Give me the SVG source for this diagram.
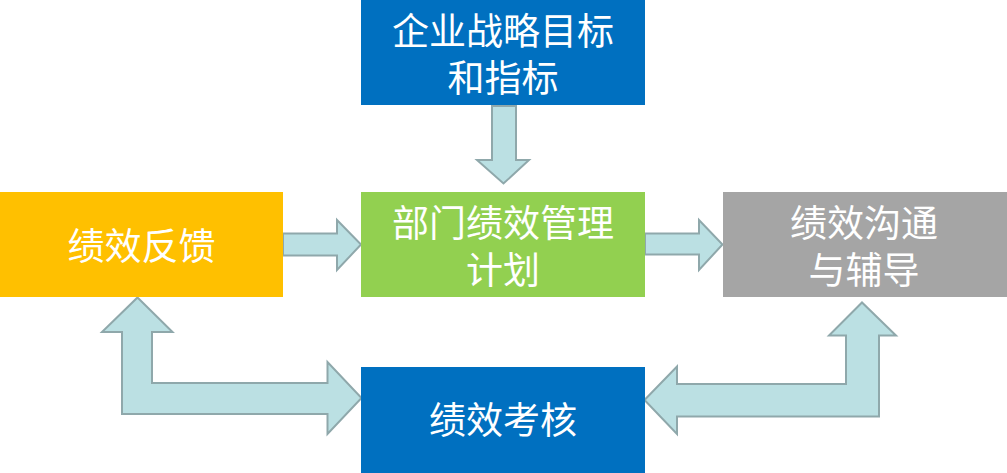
<svg xmlns="http://www.w3.org/2000/svg" width="1007" height="473" viewBox="0 0 1007 473">
<style>
.t{font-family:"Noto Sans CJK SC","Noto Sans",sans-serif;font-size:37px;fill:#FFFFFF;text-anchor:middle;dominant-baseline:central}
.a{fill:#BBE0E3;stroke:#8FA8AB;stroke-width:2;stroke-linejoin:miter}
</style>
<rect width="1007" height="473" fill="#FFFFFF"/>
<g id="connectors">
<polygon class="a" points="492,106 516,106 516,160 529,160 503.5,183.5 477,160 492,160"/>
<polygon class="a" points="283,233.5 337,233.5 337,220 361,244.5 337,270 337,255.5 283,255.5"/>
<polygon class="a" points="645,233.5 699,233.5 699,220 722.5,244.5 699,270 699,254.5 645,254.5"/>
<polygon class="a" points="137.5,297.5 172.5,332 152,332 152,383 327.5,383 327.5,362 361.5,398 327.5,434 327.5,414 122,414 122,332 102,332"/>
<polygon class="a" points="644.5,400 677,366.5 677,384 846,384 846,335.5 829,335.5 862,302.5 896,335.5 879,335.5 879,416.5 677,416.5 677,434"/>
</g>
<g id="node-strategy">
<rect x="361" y="0" width="284" height="105" fill="#0070C0"/>
<text class="t"><tspan x="503" y="29">企业战略目标</tspan><tspan x="503" y="76">和指标</tspan></text>
</g>
<g id="node-plan">
<rect x="361" y="192" width="284" height="105" fill="#92D050"/>
<text class="t"><tspan x="503" y="221">部门绩效管理</tspan><tspan x="503" y="268">计划</tspan></text>
</g>
<g id="node-feedback">
<rect x="0" y="192" width="283" height="105" fill="#FFC000"/>
<text class="t" x="141.5" y="244">绩效反馈</text>
</g>
<g id="node-communication">
<rect x="723" y="192" width="284" height="105" fill="#A5A5A5"/>
<text class="t"><tspan x="864" y="221">绩效沟通</tspan><tspan x="864" y="268">与辅导</tspan></text>
</g>
<g id="node-appraisal">
<rect x="361" y="367" width="284" height="106" fill="#0070C0"/>
<text class="t" x="503" y="418">绩效考核</text>
</g>
</svg>
